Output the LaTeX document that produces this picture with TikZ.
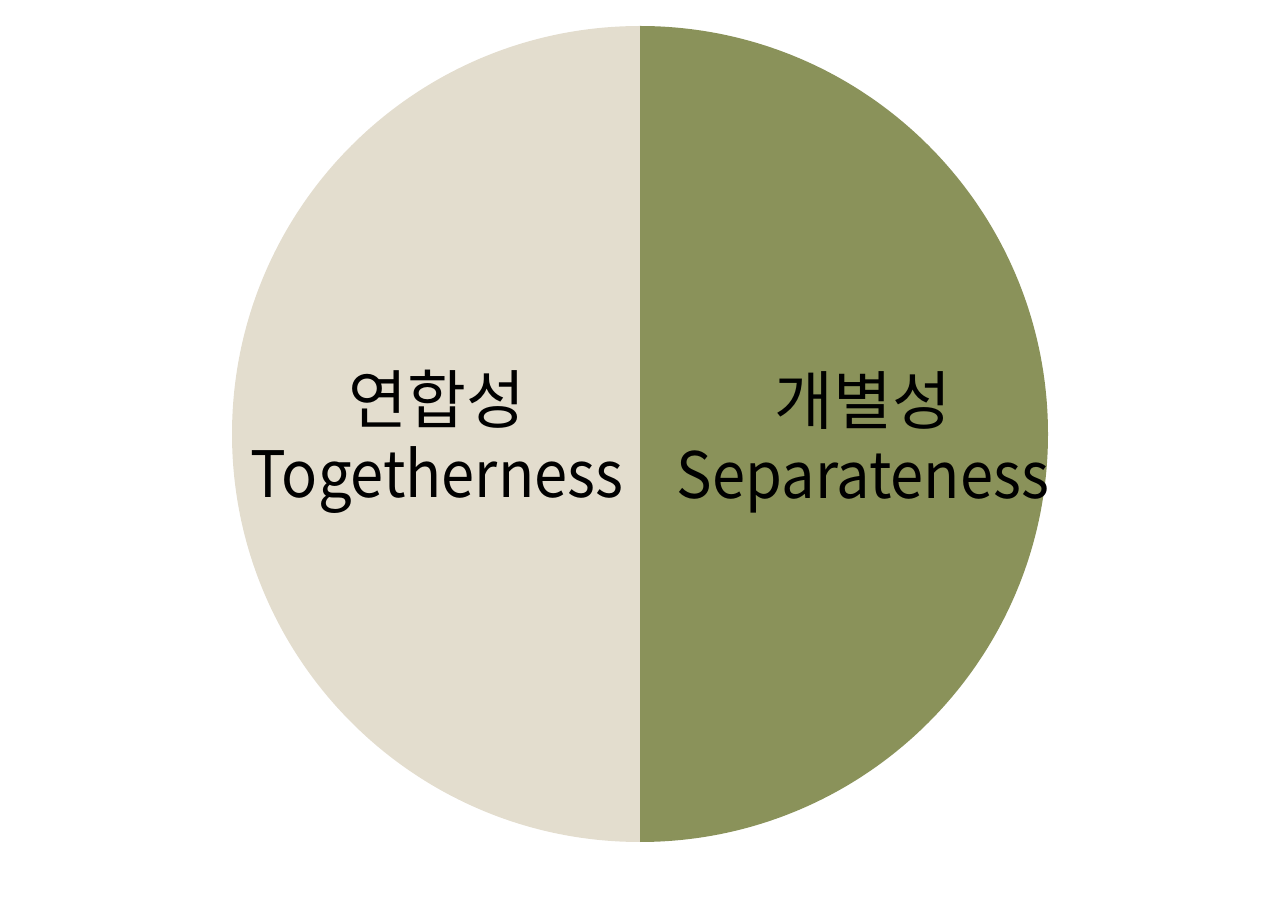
\documentclass[tikz,border=0pt]{standalone}
\usepackage{fontspec}
\setmainfont{Noto Sans CJK KR}
\newfontfamily\latinfont[FakeStretch=0.932]{Noto Sans CJK KR}
\definecolor{beige}{HTML}{E3DDCE}
\definecolor{olive}{HTML}{8A925A}
\tikzset{lbl/.style={align=center,font=\fontsize{64}{74}\selectfont,text=black,inner sep=0pt}}
\begin{document}
\begin{tikzpicture}[x=1pt,y=1pt]
\useasboundingbox (0,0) rectangle (1280,908);
\fill[beige] (640,882) arc[start angle=90,end angle=270,radius=408] -- cycle;
\fill[olive] (640,882) arc[start angle=90,end angle=-90,radius=408] -- cycle;
\node[lbl] (left) at (437,466) {연합성\\{\latinfont Togetherness}};
\node[lbl] (right) at (863,466) {개별성\\{\latinfont Separateness}};
\end{tikzpicture}
\end{document}
